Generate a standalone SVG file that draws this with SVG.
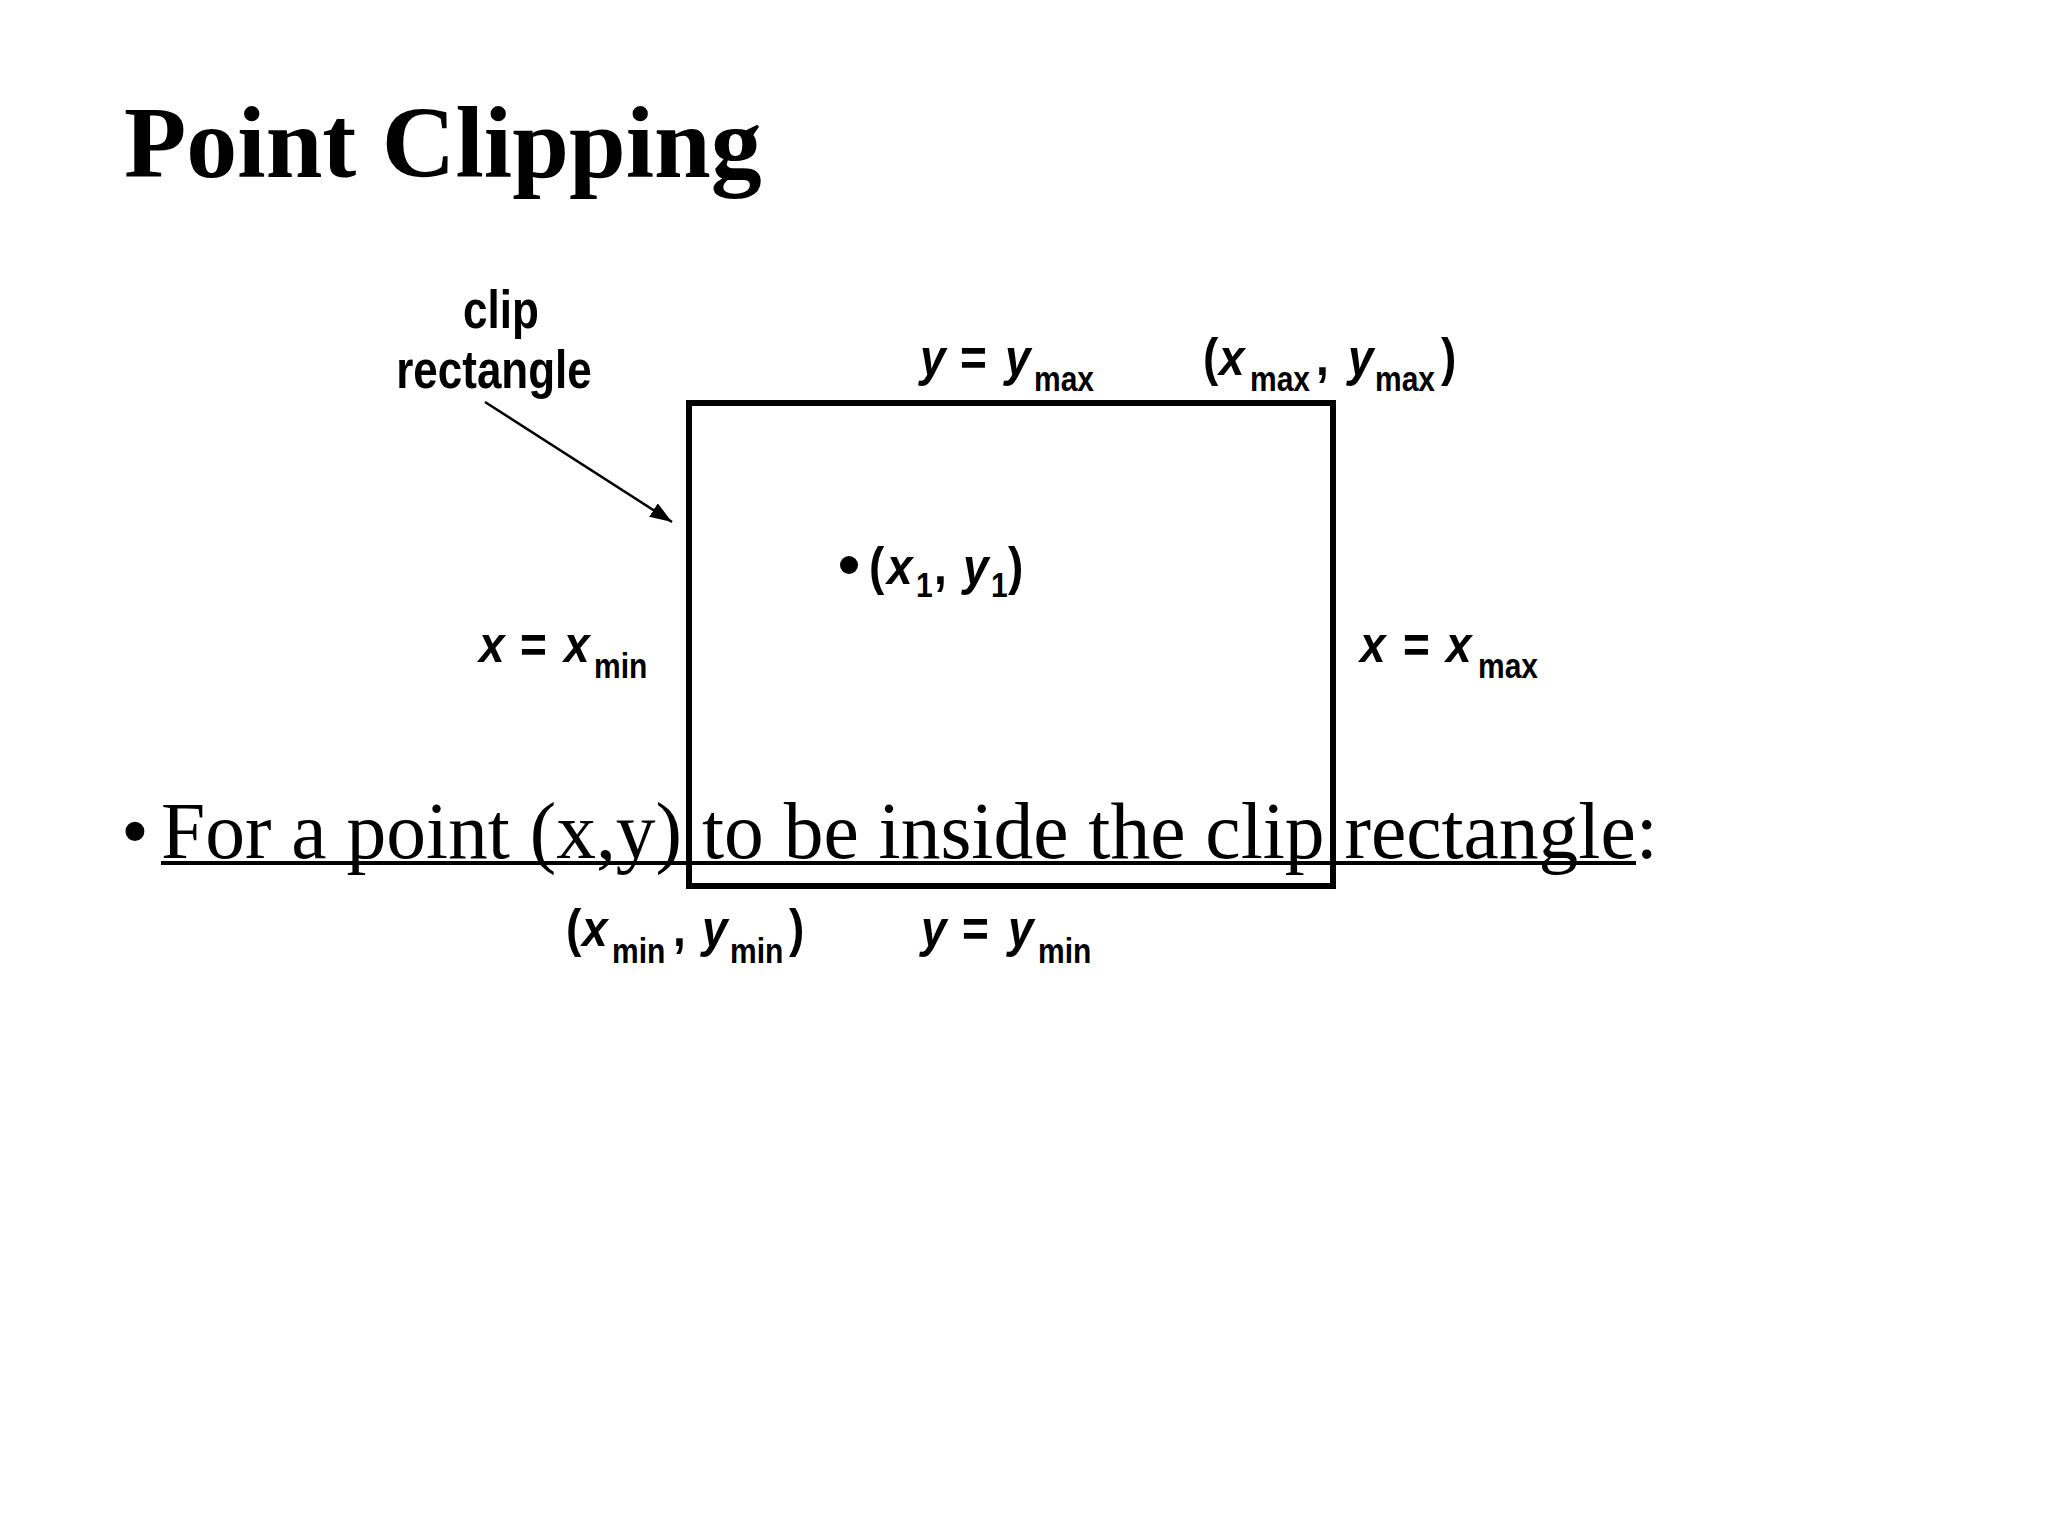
<svg xmlns="http://www.w3.org/2000/svg" width="2048" height="1536" viewBox="0 0 2048 1536">
  <defs>
    <style>
      .title { font-family: "Liberation Serif", "Times New Roman", serif; font-weight: bold; font-size: 102px; fill: #000; }
      .body { font-family: "Liberation Serif", "Times New Roman", serif; font-size: 79.5px; fill: #000; }
      .lbl { font-family: "Liberation Sans", Arial, sans-serif; font-weight: bold; font-size: 46px; fill: #000; }
      .it { font-style: italic; }
      .sub { font-size: 30px; font-style: normal; }
      .note { font-family: "Liberation Sans", Arial, sans-serif; font-weight: bold; font-size: 44px; fill: #000; }
    </style>
    <marker id="arrowhead" markerUnits="userSpaceOnUse" markerWidth="24" markerHeight="18" refX="22" refY="8" orient="auto">
      <path d="M0,0 L22,8 L0,16 Z" fill="#000"/>
    </marker>
  </defs>
  <rect width="2048" height="1536" fill="#fff"/>

  <g id="title">
    <text class="title" x="124" y="177">Point Clipping</text>
  </g>

  <g id="clip-rectangle">
    <rect x="689" y="403" width="644" height="483" fill="none" stroke="#000" stroke-width="6"/>
  </g>

  <g id="clip-rectangle-label" transform="matrix(1 0 0 1.2 0 -65.6)">
    <text class="note" x="501" y="328" text-anchor="middle">clip</text>
  </g>
  <g id="clip-rectangle-label-2" transform="matrix(1 0 0 1.2 0 -77.6)">
    <text class="note" x="494" y="388" text-anchor="middle">rectangle</text>
  </g>

  <g id="point">
    <circle cx="849" cy="565" r="9" fill="#000"/>
    <text class="lbl" transform="matrix(1 0 0 1.14 0 -81.76)"><tspan x="869" y="584">(</tspan><tspan class="it" x="887" y="584">x</tspan><tspan class="sub" x="916" y="595.4">1</tspan><tspan x="934" y="584">, </tspan><tspan class="it" x="963" y="584">y</tspan><tspan class="sub" x="991" y="595.4">1</tspan><tspan x="1008" y="584">)</tspan></text>
  </g>

  <g id="label-ymax" transform="matrix(1 0 0 1.14 0 -52.5)">
    <text class="lbl"><tspan class="it" x="920" y="375">y </tspan><tspan x="960" y="375">= </tspan><tspan class="it" x="1005" y="375">y</tspan><tspan class="sub" x="1034" y="389">max</tspan></text>
  </g>

  <g id="label-corner-max" transform="matrix(1 0 0 1.14 0 -52.5)">
    <text class="lbl"><tspan x="1203" y="375">(</tspan><tspan class="it" x="1219" y="375">x</tspan><tspan class="sub" x="1250" y="389">max</tspan><tspan x="1316" y="375">, </tspan><tspan class="it" x="1348" y="375">y</tspan><tspan class="sub" x="1375" y="389">max</tspan><tspan x="1441" y="375">)</tspan></text>
  </g>

  <g id="label-xmin" transform="matrix(1 0 0 1.14 0 -92.68)">
    <text class="lbl"><tspan class="it" x="479" y="662">x </tspan><tspan x="520" y="662">= </tspan><tspan class="it" x="564" y="662">x</tspan><tspan class="sub" x="594" y="676">min</tspan></text>
  </g>

  <g id="label-xmax" transform="matrix(1 0 0 1.14 0 -92.68)">
    <text class="lbl"><tspan class="it" x="1360" y="662">x </tspan><tspan x="1403" y="662">= </tspan><tspan class="it" x="1446" y="662">x</tspan><tspan class="sub" x="1478" y="676">max</tspan></text>
  </g>

  <g id="label-corner-min" transform="matrix(1 0 0 1.14 0 -132.44)">
    <text class="lbl"><tspan x="566" y="946">(</tspan><tspan class="it" x="582" y="946">x</tspan><tspan class="sub" x="612" y="960.5">min</tspan><tspan x="673" y="946">, </tspan><tspan class="it" x="702" y="946">y</tspan><tspan class="sub" x="730" y="960.5">min</tspan><tspan x="789" y="946">)</tspan></text>
  </g>

  <g id="label-ymin" transform="matrix(1 0 0 1.14 0 -132.44)">
    <text class="lbl"><tspan class="it" x="921" y="946">y </tspan><tspan x="962" y="946">= </tspan><tspan class="it" x="1008" y="946">y</tspan><tspan class="sub" x="1038" y="960.5">min</tspan></text>
  </g>

  <g id="bullet-text">
    <text class="body" x="121" y="858">•</text>
    <text class="body" x="161" y="858">For a point (x,y) to be inside the clip rectangle:</text>
    <line x1="161" y1="863" x2="1636" y2="863" stroke="#000" stroke-width="4"/>
  </g>

  <g id="connectors">
    <line x1="485" y1="402" x2="672" y2="522" stroke="#000" stroke-width="2.5" marker-end="url(#arrowhead)"/>
  </g>
</svg>
